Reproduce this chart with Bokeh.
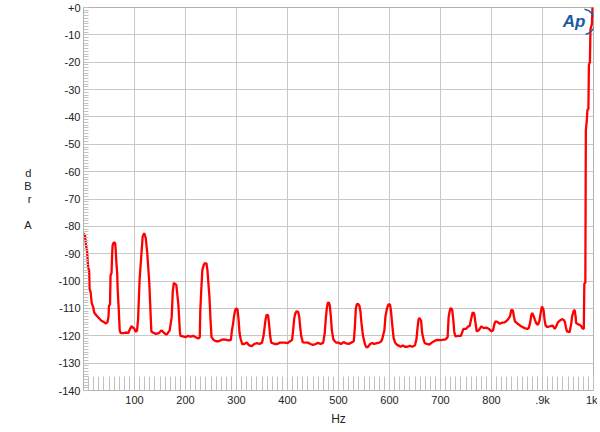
from bokeh.plotting import figure
from bokeh.models import FixedTicker, Label
from bokeh.embed import file_html
from bokeh.resources import INLINE

# ---- data ----
freq_hz = [0, 3, 5, 7, 9, 11, 12, 14, 16, 19, 21, 25, 30, 35, 40, 44, 47, 49, 50, 52, 53, 55, 56, 57, 59,
           62, 63, 64, 66, 67, 69, 70, 71, 73, 78, 85, 88, 90, 94, 97, 100, 102, 105, 107, 110, 114, 116,
           119, 122, 125, 129, 132, 133, 136, 142, 148, 153, 158, 163, 169, 173, 175, 177, 182, 184, 186,
           189, 190, 195, 200, 205, 210, 215, 220, 225, 228, 229, 231, 233, 236, 238, 241, 243, 245, 247,
           249, 251, 255, 260, 265, 270, 275, 280, 285, 289, 291, 293, 295, 297, 299, 302, 304, 306, 308,
           311, 315, 320, 325, 330, 335, 340, 345, 350, 353, 355, 357, 359, 362, 364, 366, 368, 375, 380,
           385, 395, 400, 405, 409, 411, 413, 415, 418, 421, 423, 425, 427, 430, 440, 445, 450, 455, 460,
           465, 470, 473, 475, 477, 479, 481, 483, 485, 487, 490, 495, 500, 505, 510, 515, 520, 525, 530,
           532, 534, 536, 538, 541, 543, 545, 548, 552, 555, 558, 562, 566, 570, 575, 580, 584, 586, 590,
           592, 595, 598, 601, 603, 605, 608, 611, 614, 618, 622, 626, 630, 635, 640, 645, 650, 653, 655,
           657, 659, 662, 664, 667, 669, 673, 678, 683, 689, 694, 699, 704, 710, 714, 716, 718, 720, 723,
           725, 727, 729, 735, 740, 742, 745, 750, 754, 757, 760, 763, 766, 768, 771, 775, 780, 785, 790,
           795, 800, 803, 806, 808, 812, 816, 821, 826, 832, 836, 839, 842, 844, 846, 852, 858, 865, 870,
           873, 876, 878, 880, 883, 885, 888, 891, 894, 897, 899, 902, 904, 906, 909, 914, 920, 924, 927,
           930, 935, 939, 942, 944, 946, 948, 953, 956, 958, 961, 963, 965, 966, 970, 973, 976, 978, 981,
           982, 984, 985, 987, 988, 990, 991, 993, 994, 997, 998, 1000]
level_dbr = [-82.5, -83.5, -87, -89, -95, -96, -103, -104, -108, -109.5, -111.5, -112.5, -113.5, -114.5,
             -115, -115.5, -115, -113, -109, -108.5, -98, -97, -91, -87, -86, -86, -88, -92, -97, -103,
             -110, -114, -118, -119, -119, -118.8, -119, -118, -116.5, -117, -117.5, -118.5, -118.2, -114,
             -99.5, -89, -83.7, -82.5, -84.2, -89.7, -100.6, -114, -118.4, -118.8, -119.3, -119, -118,
             -119, -119.6, -118, -113, -104, -100.7, -101.4, -105, -108.6, -118.4, -120, -120.2, -120.5,
             -120, -120.3, -120, -120.5, -121, -120.5, -111, -103, -96, -94, -93.5, -93.5, -96, -101,
             -106, -114, -120.5, -121.5, -122, -122, -121.5, -121.3, -121.5, -121.7, -121.5, -118, -116,
             -113, -111, -110, -110.3, -114, -119, -121, -123, -123, -122.5, -123.5, -123.8, -123, -122.7,
             -123, -122.5, -120, -117, -114, -112.3, -112.5, -116, -120, -122.5, -123, -123, -122.5,
             -122.5, -122.7, -122, -121.5, -118, -114, -112, -111, -111.3, -113, -117, -120.2, -122.4,
             -122.5, -123, -123.3, -123, -122.6, -123, -122.5, -119, -114, -110, -108, -107.8, -109, -113,
             -118, -121.4, -122.5, -122.5, -123, -122.3, -122.8, -123, -122.5, -122, -117, -110, -108.5,
             -108.3, -109, -111, -115.3, -120, -123.2, -124.3, -124, -123, -122.6, -123, -122.7, -122.5,
             -122, -121, -118, -113, -110, -108.5, -108.5, -111, -115.3, -120.8, -122.5, -123.2, -123.6,
             -124, -123.5, -124, -124, -123.7, -124, -123.5, -121, -117, -114, -113.5, -114.5, -119,
             -121.5, -122.6, -123, -123.2, -122.5, -121.8, -121.5, -121.6, -121.5, -121.3, -120.5, -113,
             -111, -109.8, -110.5, -114, -118.5, -120.2, -120, -120, -119, -117.5, -117.5, -116.6, -116.5,
             -114, -111.5, -111.8, -114.5, -118.4, -118, -116.6, -117.2, -117, -117.5, -118.4, -118,
             -115.5, -114.7, -115, -115.6, -115.2, -115.1, -114.1, -113, -110.5, -110.8, -113, -114.7,
             -115.7, -116.5, -117.2, -117.5, -117.2, -115, -112.5, -111.7, -113, -114.1, -115.5, -116,
             -114.5, -111, -109.3, -110.5, -114, -116.2, -116.8, -116.6, -116.3, -117.5, -116.5, -115.1,
             -114.3, -113.9, -114.3, -115, -117, -118.4, -118.7, -116, -113, -111, -110.5, -113, -115.3,
             -115.8, -116, -116.5, -117.2, -117.5, -101, -100.5, -45, -41, -37.5, -37, -21, -20, -8, -6,
             0, 0]

x_ticks = [100, 200, 300, 400, 500, 600, 700, 800, 900, 1000]
x_tick_labels = ["100", "200", "300", "400", "500", "600", "700", "800", ".9k", "1k"]
y_ticks = [0, -10, -20, -30, -40, -50, -60, -70, -80, -90, -100, -110, -120, -130, -140]
y_tick_labels = ["+0", "-10", "-20", "-30", "-40", "-50", "-60", "-70", "-80", "-90", "-100",
                 "-110", "-120", "-130", "-140"]
x_minor = list(range(0, 1001, 10))
y_minor = list(range(-140, 1, 1))
y_label_lines = ["d", "B", "r", "", "A"]

FONT = "Liberation Sans"
GRID = "#c8c8c8"
TXT = "#222222"

p = figure(frame_width=510, frame_height=383, x_range=(0, 1000), y_range=(-140, 0),
           output_backend="svg", toolbar_location=None,
           min_border_left=83, min_border_right=4, min_border_top=7, min_border_bottom=20)
p.background_fill_color = "white"
p.border_fill_color = "white"
p.outline_line_color = "#b0b0b0"

p.xaxis.ticker = FixedTicker(ticks=x_ticks, minor_ticks=x_minor)
p.yaxis.ticker = FixedTicker(ticks=y_ticks, minor_ticks=y_minor)
p.xaxis.major_label_overrides = {t: l for t, l in zip(x_ticks, x_tick_labels)}
p.yaxis.major_label_overrides = {t: l for t, l in zip(y_ticks, y_tick_labels)}

for ax in (p.xaxis[0], p.yaxis[0]):
    ax.axis_line_color = "#b0b0b0"
    ax.major_tick_line_color = "#c0c0c0"
    ax.minor_tick_line_color = "#c0c0c0"
    ax.major_tick_out = 0
    ax.minor_tick_out = 0
    ax.major_label_text_font = FONT
    ax.major_label_text_font_size = "11px"
    ax.major_label_text_color = TXT

p.xaxis.major_label_standoff = 3
p.yaxis.major_label_standoff = 3
p.xaxis.minor_tick_in = 14
p.xaxis.major_tick_in = 14
p.yaxis.minor_tick_in = 5
p.yaxis.major_tick_in = 5

p.xaxis.axis_label = "Hz"
p.xaxis.axis_label_text_font = FONT
p.xaxis.axis_label_text_font_size = "12px"
p.xaxis.axis_label_text_font_style = "normal"
p.xaxis.axis_label_text_color = TXT
p.xaxis.axis_label_standoff = 3

# stacked y-axis label "dBr A"
p.yaxis.axis_label = "\n".join(y_label_lines)
p.yaxis.axis_label_orientation = "horizontal"
p.yaxis.axis_label_text_font = FONT
p.yaxis.axis_label_text_font_size = "11px"
p.yaxis.axis_label_text_font_style = "normal"
p.yaxis.axis_label_text_color = TXT
p.yaxis.axis_label_text_line_height = 1.1
p.yaxis.axis_label_standoff = 24
p.yaxis.axis_label_text_align = "center"

p.xgrid.grid_line_color = GRID
p.ygrid.grid_line_color = GRID

p.line(freq_hz, level_dbr, line_color="#ff0000", line_width=2.3)

# Ap logo
p.add_layout(Label(x=984, y=-5.3, text="Ap", text_align="right", text_baseline="middle",
                   text_font=FONT, text_font_size="17px", text_font_style="bold italic",
                   text_color="#1b5aa6"))
p.arc(x=[978], y=[-5.3], radius=13, radius_units="screen", start_angle=-1.3, end_angle=1.4,
      line_color="#1b5aa6", line_width=1.5)

open("out.html", "w").write(file_html(p, INLINE))
